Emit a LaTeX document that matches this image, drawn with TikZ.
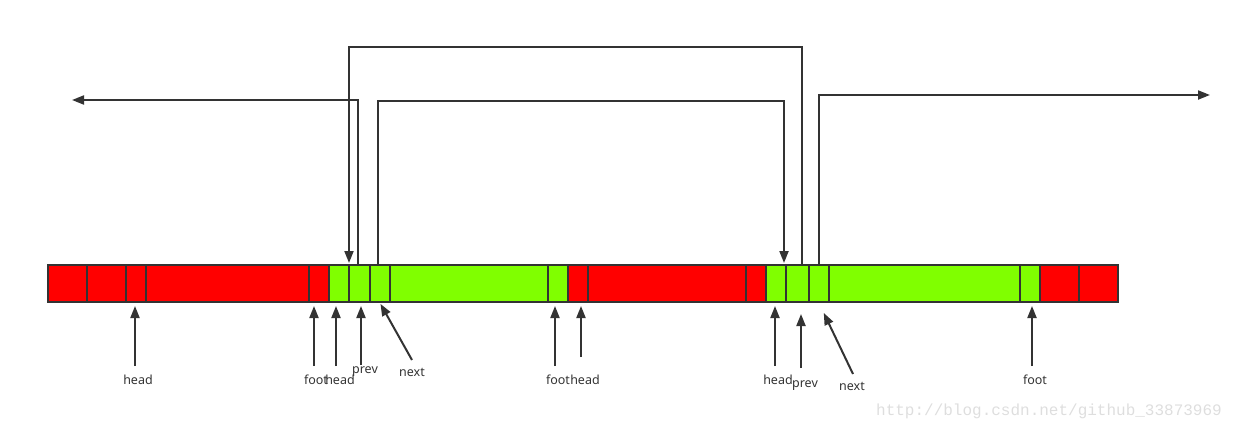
\documentclass[tikz,border=0pt]{standalone}
\usepackage{fontspec}
\setmainfont{Noto Sans}
\newfontfamily\wmfont{Liberation Mono}
\usetikzlibrary{arrows.meta}
\definecolor{ink}{HTML}{333333}
\definecolor{usedred}{HTML}{FF0000}
\definecolor{freegreen}{HTML}{80FF00}
\tikzset{
  cell/.style={draw=ink, line width=2pt, minimum height=37pt, inner sep=0pt},
  ptr/.style={draw=ink, line width=2pt, -{Triangle[length=12pt,width=9pt]}},
  lbl/.style={text=ink, font=\fontsize{12.5}{14}\selectfont, inner sep=0pt}
}
\begin{document}
\begin{tikzpicture}[x=1pt,y=-1pt]
\useasboundingbox (0,0) rectangle (1240,431);

% the heap: used blocks red, free blocks green
\foreach \a/\b/\c [count=\i] in {48/87/usedred, 87/126/usedred, 126/146/usedred, 146/309/usedred,
  309/329/usedred, 329/349/freegreen, 349/370/freegreen, 370/390/freegreen, 390/548/freegreen,
  548/568/freegreen, 568/588/usedred, 588/746/usedred, 746/766/usedred, 766/786/freegreen,
  786/809/freegreen, 809/829/freegreen, 829/1020/freegreen, 1020/1040/freegreen,
  1040/1079/usedred, 1079/1118/usedred}
  \node[cell, fill=\c, minimum width={(\b-\a)*1pt}] (c\i) at ({(\a+\b)/2},283.5) {};

% links between the free blocks
\coordinate (outL) at (72,100);
\coordinate (outR) at (1210,95);
\draw[ptr] ([xshift=-2pt]c7.north) |- (outL);
\draw[ptr, shorten >=1pt] ([xshift=4pt]c15.north) -- ++(0,-217) -| ([xshift=-1pt]c6.north east);
\draw[ptr, shorten >=1pt] ([xshift=-2pt]c8.north) -- ++(0,-163) -| ([xshift=-3pt]c14.north east);
\draw[ptr] (c16.north) |- (outR);

% field pointers under the heap
\foreach \n/\x/\y/\s/\t/\lx/\ly in {1/135/366/3/head/138/380, 2/314/366/3/foot/316/380,
  3/336/366/3/head/340/380, 4/361/365/3/prev/365/372, 5/555/366/3/foot/558/380,
  6/581/357/3/head/585/380, 7/775/366/3/head/778/380, 8/801/368/11/prev/805/386,
  9/1032/366/3/foot/1035/380}
{
  \coordinate (t\n) at (\x,\y);
  \node[lbl] (l\n) at (\lx,\ly) {\t};
  \draw[ptr, shorten >=\s pt] (t\n) -- (t\n |- c1.south);
}
\coordinate (tn1) at (412,360);
\coordinate (tn2) at (853,374);
\node[lbl] (ln1) at (412,372) {next};
\node[lbl] (ln2) at (852,386) {next};
\draw[ptr, shorten >=1pt] (tn1) -- (c8.south);
\draw[ptr, shorten >=11pt] (tn2) -- (c16.south);

\node[text={rgb,255:red,222;green,222;blue,222}, font=\wmfont\fontsize{16}{18}\selectfont, inner sep=0pt] (wm) at (1049,411) {http://blog.csdn.net/github\_33873969};
\end{tikzpicture}
\end{document}
